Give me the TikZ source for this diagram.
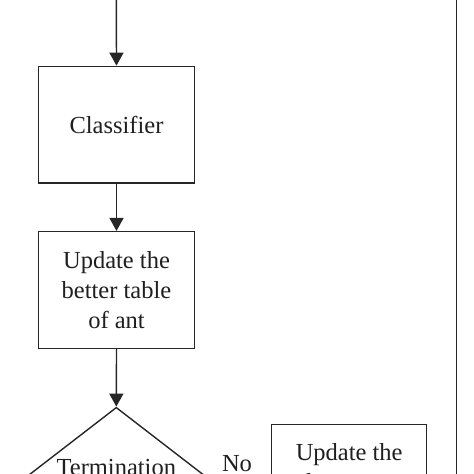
\documentclass[tikz,border=0pt]{standalone}
\usepackage{fontspec}
\setmainfont{Liberation Serif}
\usetikzlibrary{arrows.meta,shapes.geometric}
\begin{document}
\begin{tikzpicture}[x=1pt,y=-1pt,
  every node/.style={text=black!88},
  flowbox/.style={draw=black!85, line width=1.4pt, rectangle, inner sep=0pt,
    minimum width=156pt, minimum height=116.7pt, align=center,
    font=\fontsize{24.5}{30}\selectfont},
  decision/.style={draw=black!85, line width=1.4pt, diamond, inner sep=0pt,
    minimum width=202pt, minimum height=156pt},
  lbl/.style={font=\fontsize{24.5}{30}\selectfont, inner sep=0pt, anchor=base},
  flow/.style={draw=black!85, line width=1.4pt, -{Triangle[width=14pt,length=13pt]}},
  plain/.style={draw=black!85, line width=1.4pt}]
\useasboundingbox (0,0) rectangle (474,474);
\clip (0,0) rectangle (474,474);
\coordinate (top) at (116.3,-5);
\node[flowbox] (cls) at (116.5,124.7) {Classifier};
\node[flowbox] (upd) at (116.5,290) {Update the\\better table\\of ant};
\node[decision] (term) at (116.3,485.3) {};
\node[lbl] (termtxt) at (116.3,475.5) {Termination};
\node[flowbox, minimum width=155pt] (pher) at (349.2,482.8) {};
\node[lbl] (phertxt1) at (349.2,460) {Update the};
\node[lbl] (phertxt2) at (349.2,490) {pheromone};
\node[lbl] (no) at (237,471.5) {No};
\coordinate (loopb) at (456.7,480);
\coordinate (loopt) at (456.7,-5);
\draw[flow] (top) -- (cls.north);
\draw[flow] (cls.south) -- (upd.north);
\draw[flow] (upd.south) -- (term.north);
\draw[flow] (term.east) -- (pher.west);
\draw[plain] (loopb) -- (loopt);
\end{tikzpicture}
\end{document}
